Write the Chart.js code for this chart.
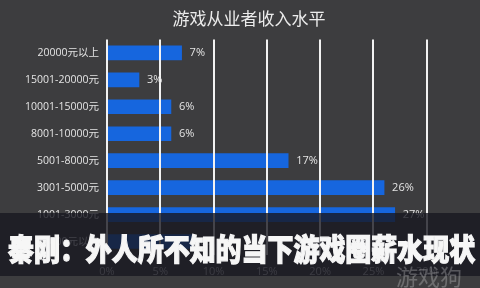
<!DOCTYPE html>
<html>
<head>
<meta charset="utf-8">
<script src="https://cdn.jsdelivr.net/npm/chart.js@4/dist/chart.umd.min.js"></script>
<style>
  html, body { margin: 0; padding: 0; background: #3d3d3f; }
  #wrap { position: relative; width: 480px; height: 288px; overflow: hidden; }
  canvas { display: block; }
  #banner {
    position: absolute; left: 0; top: 213px; width: 480px; height: 63px;
    background: rgba(24, 24, 32, 0.8);
  }
  #banner span {
    position: absolute; left: 8px; top: 16px; white-space: nowrap;
    font-family: "Noto Sans CJK SC", sans-serif; font-weight: 900;
    font-size: 30px; line-height: 36px; color: #f6f6f6;
    -webkit-text-stroke: 1.2px #f6f6f6;
    transform: scaleX(0.865); transform-origin: left top;
  }
  #mark {
    position: absolute; left: 396px; top: 259px;
    font-family: "Noto Sans CJK SC", sans-serif; font-size: 22px;
    color: rgba(255, 255, 255, 0.25);
  }
</style>
</head>
<body>
<div id="wrap">
  <canvas id="chart" width="480" height="288"></canvas>
  <div id="banner"><span>秦刚：外人所不知的当下游戏圈薪水现状</span></div>
  <div id="mark">游戏狗</div>
</div>
<script>
const categories = [
  "20000元以上",
  "15001-20000元",
  "10001-15000元",
  "8001-10000元",
  "5001-8000元",
  "3001-5000元",
  "1001-3000元",
  "1000元以下",
];
const shares = [7, 3, 6, 6, 17, 26, 27, 8];
const xTicks = [0, 5, 10, 15, 20, 25, 30];

const textColor = "#e4e4e4";
const barColor = "rgb(22, 102, 222)";

// gridlines sit on top of the bars in the original
const topGrid = {
  id: "topGrid",
  afterDatasetsDraw(chart) {
    const { ctx, chartArea, scales } = chart;
    ctx.save();
    ctx.strokeStyle = "#f2f2f2";
    ctx.lineWidth = 2;
    xTicks.forEach((v) => {
      const x = Math.round(scales.x.getPixelForValue(v));
      ctx.beginPath();
      ctx.moveTo(x, chartArea.top);
      ctx.lineTo(x, chartArea.bottom);
      ctx.stroke();
    });
    ctx.restore();
  },
};

const valueLabels = {
  id: "valueLabels",
  afterDatasetsDraw(chart) {
    const { ctx } = chart;
    const meta = chart.getDatasetMeta(0);
    ctx.save();
    ctx.font = "11px 'Open Sans', sans-serif";
    ctx.fillStyle = textColor;
    ctx.textAlign = "left";
    ctx.textBaseline = "middle";
    meta.data.forEach((bar, i) => {
      ctx.fillText(shares[i] + "%", bar.x + 8, bar.y);
    });
    ctx.restore();
  },
};

new Chart(document.getElementById("chart"), {
  type: "bar",
  data: {
    labels: categories,
    datasets: [
      {
        data: shares,
        backgroundColor: barColor,
        barThickness: 14,
      },
    ],
  },
  options: {
    indexAxis: "y",
    responsive: false,
    animation: false,
    layout: { padding: { top: 8, left: 18, right: 0, bottom: 10 } },
    plugins: {
      legend: { display: false },
      tooltip: { enabled: false },
      title: {
        display: true,
        text: "游戏从业者收入水平",
        color: "#ececec",
        font: { family: "'Noto Sans CJK SC', sans-serif", size: 17, weight: "normal" },
        padding: { top: 0, bottom: 11 },
      },
    },
    scales: {
      x: {
        min: 0,
        max: 35,
        afterBuildTicks(scale) {
          scale.ticks = xTicks.map((v) => ({ value: v }));
        },
        afterFit(scale) {
          scale.height = 23;
        },
        ticks: {
          color: "#c4c4c4",
          padding: 10,
          maxRotation: 0,
          font: { family: "'Open Sans', sans-serif", size: 11 },
          callback: (v) => v + "%",
        },
        grid: { display: false, drawTicks: false },
        border: { display: false },
      },
      y: {
        afterFit(scale) {
          scale.width = 89;
        },
        ticks: {
          color: textColor,
          padding: 8,
          font: { family: "'Open Sans', 'Noto Sans CJK SC', sans-serif", size: 10.5 },
        },
        grid: { display: false, drawTicks: false },
        border: { display: false },
      },
    },
  },
  plugins: [topGrid, valueLabels],
});
</script>
</body>
</html>
